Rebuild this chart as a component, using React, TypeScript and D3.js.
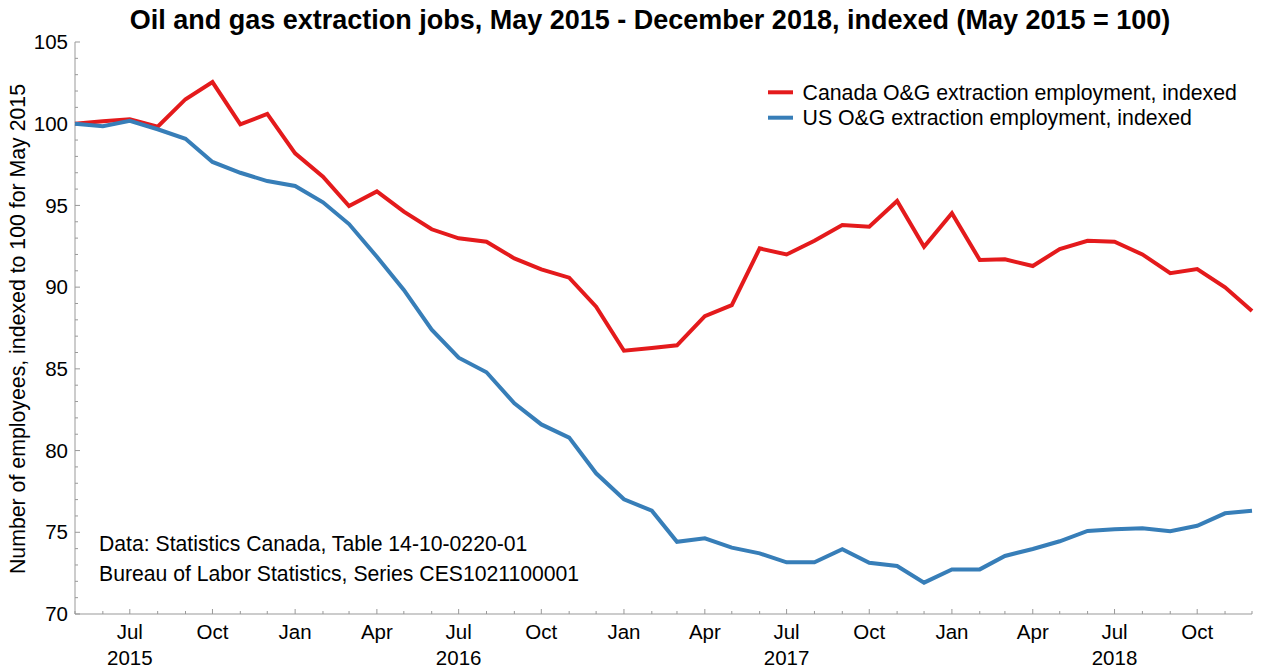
import React from "react";
import * as d3 from "d3";

const months: string[] = [
  "2015-05","2015-06","2015-07","2015-08","2015-09","2015-10","2015-11","2015-12",
  "2016-01","2016-02","2016-03","2016-04","2016-05","2016-06","2016-07","2016-08","2016-09","2016-10","2016-11","2016-12",
  "2017-01","2017-02","2017-03","2017-04","2017-05","2017-06","2017-07","2017-08","2017-09","2017-10","2017-11","2017-12",
  "2018-01","2018-02","2018-03","2018-04","2018-05","2018-06","2018-07","2018-08","2018-09","2018-10","2018-11","2018-12",
];

const canada: number[] = [
  100, 100.15, 100.27, 99.82, 101.5, 102.55, 99.96, 100.6,
  98.19, 96.76, 94.96, 95.86, 94.62, 93.54, 92.99, 92.78, 91.76, 91.09, 90.58, 88.8,
  86.11, 86.27, 86.44, 88.23, 88.9, 92.37, 92.0, 92.84, 93.8, 93.7, 95.27, 92.47,
  94.52, 91.66, 91.7, 91.29, 92.33, 92.84, 92.78, 92.0, 90.85, 91.11, 89.99, 88.54,
];

const us: number[] = [
  100, 99.85, 100.18, 99.66, 99.08, 97.66, 97.0, 96.49,
  96.19, 95.19, 93.86, 91.86, 89.83, 87.4, 85.68, 84.79, 82.89, 81.6, 80.79, 78.61,
  77.02, 76.32, 74.42, 74.63, 74.06, 73.71, 73.16, 73.16, 73.96, 73.14, 72.94, 71.92,
  72.73, 72.73, 73.55, 73.98, 74.45, 75.08, 75.18, 75.24, 75.06, 75.4, 76.16, 76.32,
];

const yTicks: number[] = [70, 75, 80, 85, 90, 95, 100, 105];
const quarterLabels: string[] = ["Jan", "Apr", "Jul", "Oct"];
const years: number[] = [2015, 2016, 2017, 2018];

const seriesNames: string[] = [
  "Canada O&G extraction employment, indexed",
  "US O&G extraction employment, indexed",
];
const colors: string[] = ["#e41a1c", "#377eb8"];

const title = "Oil and gas extraction jobs, May 2015 - December 2018, indexed (May 2015 = 100)";
const yLabel = "Number of employees, indexed to 100 for May 2015";
const sourceLines: string[] = [
  "Data: Statistics Canada, Table 14-10-0220-01",
  "Bureau of Labor Statistics, Series CES1021100001",
];

const W = 1280, H = 672;
const left = 75, right = 1252, top = 42, bottom = 614;
const FONT = "'Liberation Sans', Arial, Helvetica, sans-serif";

export default function App() {
  const parse = d3.utcParse("%Y-%m");
  const dates = months.map((m) => parse(m) as Date);
  const x = d3.scaleUtc().domain([dates[0], dates[dates.length - 1]]).range([left, right]);
  const y = d3.scaleLinear().domain([70, 105]).range([bottom, top]);

  const line = d3
    .line<number>()
    .x((_, i) => x(dates[i]))
    .y((d) => y(d));

  const allMonths = d3.utcMonth.range(dates[0], d3.utcMonth.offset(dates[dates.length - 1], 1));
  const minorY = d3.range(70, 105.001, 1);

  return (
    <svg
      width={W}
      height={H}
      style={{ position: "absolute", left: 0, top: 0, display: "block", background: "#fff" }}
      fontFamily={FONT}
    >
      <text x={650} y={29} textAnchor="middle" fontSize={27} fontWeight="bold" fill="#000">
        {title}
      </text>

      {/* axes */}
      <line x1={left} x2={left} y1={top} y2={bottom} stroke="#999" strokeWidth={1} />
      <line x1={left} x2={right} y1={bottom} y2={bottom} stroke="#999" strokeWidth={1} />

      {minorY.map((v) => {
        const major = v % 5 === 0;
        return (
          <line key={"yt" + v} x1={left} x2={left + (major ? 5 : 3)} y1={y(v)} y2={y(v)} stroke="#999" strokeWidth={1} />
        );
      })}
      {yTicks.map((v) => (
        <text key={"yl" + v} x={68} y={y(v)} dy="0.35em" textAnchor="end" fontSize={20.5} fill="#000">
          {v}
        </text>
      ))}

      {allMonths.map((d) => {
        const m = d.getUTCMonth();
        const major = m % 3 === 0;
        return (
          <line key={"xt" + d.toISOString()} x1={x(d)} x2={x(d)} y1={bottom} y2={bottom - (major ? 5 : 3)} stroke="#999" strokeWidth={1} />
        );
      })}
      {allMonths
        .filter((d) => d.getUTCMonth() % 3 === 0)
        .map((d) => (
          <text key={"xl" + d.toISOString()} x={x(d)} y={639} textAnchor="middle" fontSize={20.5} fill="#000">
            {quarterLabels[d.getUTCMonth() / 3]}
          </text>
        ))}
      {years.map((yr) => (
        <text key={"yr" + yr} x={x(new Date(Date.UTC(yr, 6, 1)))} y={665} textAnchor="middle" fontSize={20.5} fill="#000">
          {yr}
        </text>
      ))}

      <text
        transform={`translate(25, 329) rotate(-90)`}
        textAnchor="middle"
        fontSize={21.3}
        fill="#000"
      >
        {yLabel}
      </text>

      {[canada, us].map((s, i) => (
        <path
          key={"s" + i}
          d={line(s) || ""}
          fill="none"
          stroke={colors[i]}
          strokeWidth={4}
          strokeLinejoin="miter"
        />
      ))}

      {seriesNames.map((n, i) => (
        <g key={"lg" + i}>
          <line x1={768} x2={793} y1={92.3 + i * 25.4} y2={92.3 + i * 25.4} stroke={colors[i]} strokeWidth={4} />
          <text x={802.5} y={99.5 + i * 25.4} fontSize={21.3} fill="#000">
            {n}
          </text>
        </g>
      ))}

      {sourceLines.map((t, i) => (
        <text key={"src" + i} x={99} y={551 + i * 30} fontSize={21.2} fill="#000">
          {t}
        </text>
      ))}
    </svg>
  );
}
